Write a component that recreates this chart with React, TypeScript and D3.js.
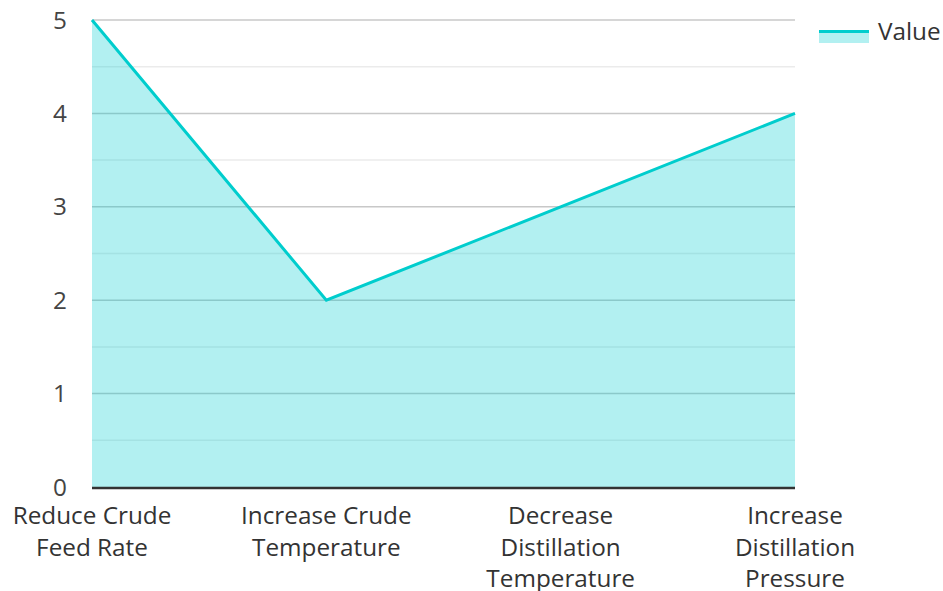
import React from "react";
import * as d3 from "d3";

const categories: string[][] = [
  ["Reduce Crude", "Feed Rate"],
  ["Increase Crude", "Temperature"],
  ["Decrease", "Distillation", "Temperature"],
  ["Increase", "Distillation", "Pressure"],
];
const values: number[] = [5, 2, 3, 4];
const yTicks: number[] = [0, 1, 2, 3, 4, 5];
const seriesName = "Value";

const W = 943;
const H = 591;
const M = { left: 92, right: 148, top: 20, bottom: 104 };

export default function App() {
  const x = d3
    .scalePoint<number>()
    .domain(d3.range(values.length))
    .range([M.left, W - M.right]);
  const y = d3.scaleLinear().domain([0, 5]).range([H - M.bottom, M.top]);
  const area = d3
    .area<number>()
    .x((_, i) => x(i)!)
    .y0(y(0))
    .y1((d) => y(d));
  const line = d3
    .line<number>()
    .x((_, i) => x(i)!)
    .y((d) => y(d));
  const halfTicks = d3.range(0.5, 5, 1);
  const font = "'Open Sans', 'Noto Sans', sans-serif";
  const fs = 24.3;
  return (
    <svg
      width={W}
      height={H}
      style={{ position: "absolute", left: 0, top: 0, fontFamily: font }}
    >
      <rect width={W} height={H} fill="#fff" />
      {halfTicks.map((t) => (
        <line
          key={"h" + t}
          x1={M.left}
          x2={W - M.right}
          y1={y(t)}
          y2={y(t)}
          stroke="#ebebeb"
          strokeWidth={1.5}
        />
      ))}
      {yTicks.slice(1).map((t) => (
        <line
          key={"g" + t}
          x1={M.left}
          x2={W - M.right}
          y1={y(t)}
          y2={y(t)}
          stroke="#c8c8c8"
          strokeWidth={1.5}
        />
      ))}
      <path d={area(values)!} fill="rgba(0,206,209,0.3)" />
      <path d={line(values)!} fill="none" stroke="#00cdcd" strokeWidth={3} />
      <line
        x1={M.left}
        x2={W - M.right}
        y1={y(0) + 1}
        y2={y(0) + 1}
        stroke="#333"
        strokeWidth={2.5}
      />
      {yTicks.map((t) => (
        <text
          key={"t" + t}
          x={67}
          y={y(t)}
          dy="0.35em"
          textAnchor="end"
          fontSize={fs}
          fill="#444"
        >
          {t}
        </text>
      ))}
      {categories.map((lines, i) => (
        <text
          key={"c" + i}
          x={x(i)}
          y={524}
          textAnchor="middle"
          fontSize={fs}
          fill="#333"
        >
          {lines.map((l, j) => (
            <tspan key={j} x={x(i)} dy={j === 0 ? 0 : 31.7}>
              {l}
            </tspan>
          ))}
        </text>
      ))}
      <g>
        <rect x={819} y={30} width={50} height={13} fill="rgba(0,206,209,0.3)" />
        <line x1={819} x2={869} y1={31.5} y2={31.5} stroke="#00cdcd" strokeWidth={3} />
        <text x={878} y={40} fontSize={fs} fill="#333">
          {seriesName}
        </text>
      </g>
    </svg>
  );
}
